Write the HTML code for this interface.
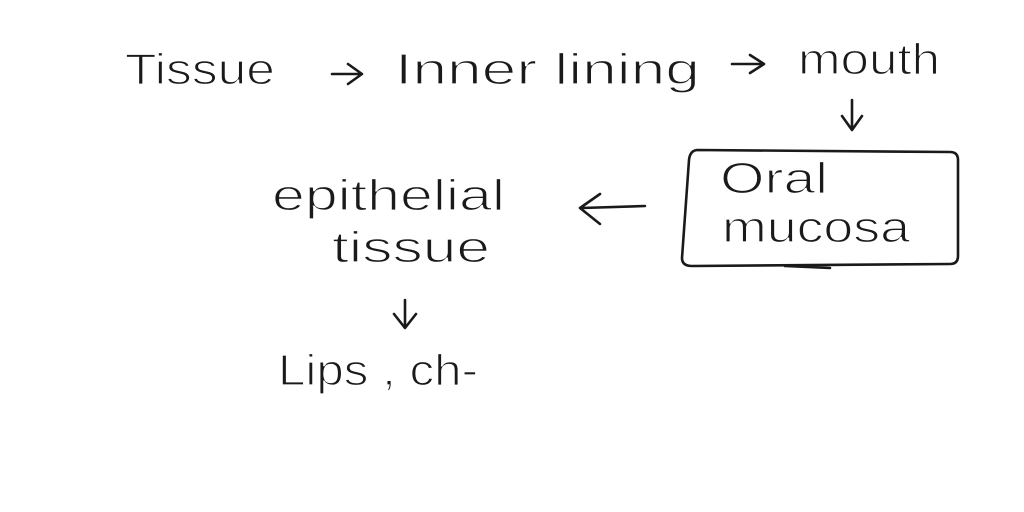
<!DOCTYPE html>
<html><head><meta charset="utf-8"><style>
html,body{margin:0;padding:0;background:#fff;width:1024px;height:512px;overflow:hidden}
svg{display:block}
text{font-family:"Liberation Sans",sans-serif;fill:#1a1a1a;font-size:44px;stroke:#fff;stroke-width:1.3;paint-order:fill}
path{fill:none;stroke:#1a1a1a;stroke-width:2.6;stroke-linecap:round;stroke-linejoin:round}
</style></head><body>
<svg width="1024" height="512" viewBox="0 0 1024 512">
<text x="125" y="84" textLength="150" lengthAdjust="spacingAndGlyphs">Tissue</text>
<path d="M332 74 L360 74 M348 64 L362 74 L348 84"/>
<text x="395" y="84" textLength="305" lengthAdjust="spacingAndGlyphs">Inner lining</text>
<path d="M732 64 L762 64 M750 55 L764 64 L750 73"/>
<text x="798" y="74" textLength="142" lengthAdjust="spacingAndGlyphs">mouth</text>
<path d="M852 100 L852 128 M842 116 L852 130 L862 116"/>
<path d="M698 150 Q690 150 689 160 L682 258 Q682 266 692 266 L950 264 Q958 264 958 256 L958 160 Q958 152 950 152 L698 150 Z"/>
<path d="M785 266 L830 268"/>
<text x="720" y="193" textLength="108" lengthAdjust="spacingAndGlyphs">Oral</text>
<text x="722" y="242" textLength="188" lengthAdjust="spacingAndGlyphs">mucosa</text>
<path d="M645 206 L582 208 M600 194 L580 208 L600 224"/>
<text x="272" y="210" textLength="233" lengthAdjust="spacingAndGlyphs">epithelial</text>
<text x="332" y="262" textLength="158" lengthAdjust="spacingAndGlyphs">tissue</text>
<path d="M405 300 L405 326 M394 314 L405 328 L416 314"/>
<text x="278" y="385" textLength="200" lengthAdjust="spacingAndGlyphs">Lips , ch-</text>
</svg>
</body></html>
